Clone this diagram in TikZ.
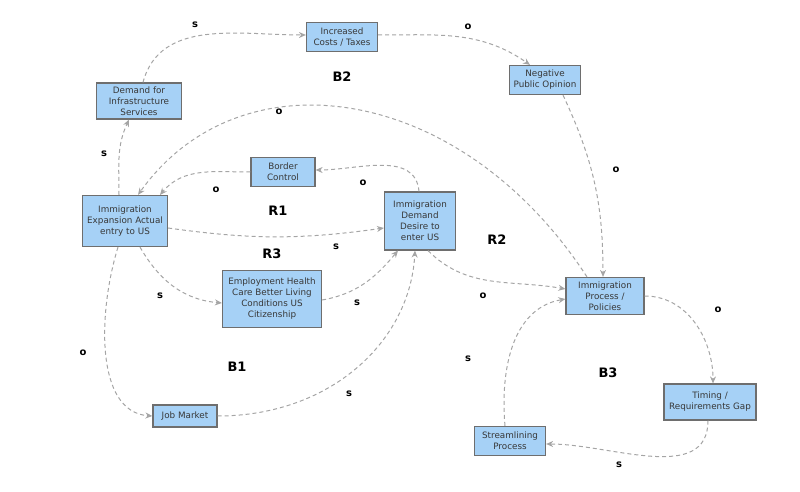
\documentclass[tikz,border=0pt]{standalone}
\usepackage{fontspec}
\setmainfont{DejaVu Sans}
\usetikzlibrary{arrows.meta}
\definecolor{boxfill}{RGB}{166,209,246}
\definecolor{boxline}{RGB}{110,110,110}
\definecolor{linkgray}{RGB}{165,165,165}
\tikzset {>=Stealth}
\tikzset{var/.style={draw=boxline,fill=boxfill,line width=1.2pt,align=center,inner sep=0.5pt,
    font=\fontsize{8.8}{11}\selectfont,text=black!78},
  link/.style={draw=linkgray,line width=1pt,dash pattern=on 4pt off 3pt,-{Stealth[length=7pt,width=6pt]}},
  sign/.style={font=\bfseries\fontsize{10}{10}\selectfont},
  loopname/.style={font=\bfseries\fontsize{13}{13}\selectfont}}
\begin{document}
\begin{tikzpicture}[x=1pt,y=1pt]
\useasboundingbox (0,0) rectangle (800,492);
\node[var,minimum width=85pt,minimum height=36pt] (infra) at (139,391) {Demand for\\Infrastructure\\Services};
\node[var,minimum width=71pt,minimum height=29pt] (costs) at (342,455) {Increased\\Costs / Taxes};
\node[var,minimum width=71pt,minimum height=29pt] (opinion) at (545,412) {Negative\\Public Opinion};
\node[var,minimum width=64pt,minimum height=29pt] (border) at (283,320) {Border\\Control};
\node[var,minimum width=85pt,minimum height=51pt] (expansion) at (125,271) {Immigration\\Expansion Actual\\entry to US};
\node[var,minimum width=71pt,minimum height=58pt] (demand) at (420,271) {Immigration\\Demand\\Desire to\\enter US};
\node[var,minimum width=99pt,minimum height=57pt] (employ) at (272,193) {Employment Health\\Care Better Living\\Conditions US\\Citizenship};
\node[var,minimum width=78pt,minimum height=37pt] (process) at (605,196) {Immigration\\Process /\\Policies};
\node[var,minimum width=64pt,minimum height=22pt] (job) at (185,76) {Job Market};
\node[var,minimum width=92pt,minimum height=36pt] (timing) at (710,90) {Timing /\\Requirements Gap};
\node[var,minimum width=71pt,minimum height=29pt] (stream) at (510,51) {Streamlining\\Process};
\draw[link] ([xshift=-6pt]expansion.north) to[out=90,in=-115] ([xshift=-10pt]infra.south);
\draw[link] ([xshift=4pt]infra.north) to[out=75,in=180] ([yshift=2pt]costs.west);
\draw[link] ([yshift=2pt]costs.east) to[out=0,in=145] ([xshift=-15pt]opinion.north);
\draw[link] ([xshift=18pt]opinion.south) to[out=-65,in=90] ([xshift=-2pt]process.north);
\draw[link] ([xshift=-18pt]process.north) .. controls (460,410) and (240,440) .. ([xshift=13pt]expansion.north);
\draw[link] (border.west) to[out=180,in=50] ([xshift=35pt]expansion.north);
\draw[link] ([xshift=-1pt]demand.north) to[out=95,in=0] ([yshift=2pt]border.east);
\draw[link] ([yshift=-7pt]expansion.east) to[bend right=8] ([yshift=-7pt]demand.west);
\draw[link] ([xshift=15pt]expansion.south) to[out=-60,in=175] ([yshift=-4pt]employ.west);
\draw[link] ([yshift=-1pt]employ.east) to[out=10,in=-130] ([xshift=-22pt]demand.south);
\draw[link] ([xshift=-7pt]expansion.south) .. controls (98,180) and (95,80) .. (job.west);
\draw[link] (job.east) .. controls (330,76) and (410,150) .. ([xshift=-5pt]demand.south);
\draw[link] ([xshift=8pt]demand.south) to[out=-45,in=170] ([yshift=7pt]process.west);
\draw[link] (process.east) to[out=0,in=90] ([xshift=3pt]timing.north);
\draw[link] ([xshift=-2pt]timing.south) to[out=-90,in=0] ([yshift=-3pt]stream.east);
\draw[link] ([xshift=-5pt]stream.north) to[out=95,in=-170] ([yshift=-3pt]process.west);
\node[sign] (s1) at (195,467) {s};
\node[sign] (o1) at (468,465) {o};
\node[sign] (o2) at (279,380) {o};
\node[sign] (s2) at (104,338) {s};
\node[sign] (o3) at (616,322) {o};
\node[sign] (o4) at (216,302) {o};
\node[sign] (o5) at (363,309) {o};
\node[sign] (s3) at (336,245) {s};
\node[sign] (s4) at (160,196) {s};
\node[sign] (s5) at (357,189) {s};
\node[sign] (o6) at (483,196) {o};
\node[sign] (o7) at (718,182) {o};
\node[sign] (s6) at (468,133) {s};
\node[sign] (o8) at (83,139) {o};
\node[sign] (s7) at (349,98) {s};
\node[sign] (s8) at (619,27) {s};
\node[loopname] (b2) at (342,415) {B2};
\node[loopname] (r1) at (278,281) {R1};
\node[loopname] (r3) at (272,238) {R3};
\node[loopname] (r2) at (497,252) {R2};
\node[loopname] (b3) at (608,119) {B3};
\node[loopname] (b1) at (237,125) {B1};
\end{tikzpicture}
\end{document}
